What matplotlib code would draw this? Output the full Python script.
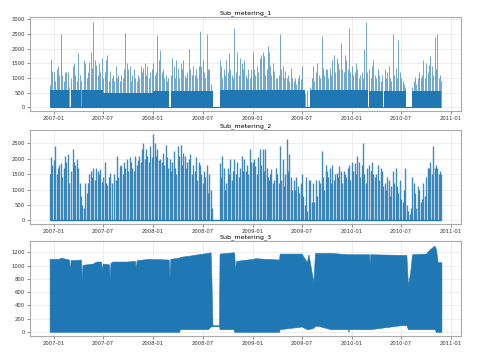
import matplotlib
matplotlib.use('Agg')

import matplotlib.pyplot as plt
import matplotlib.dates as mdates
import pandas as pd

# --- data (hourly sums, peaks every 5 days: days 1,6,11,16,21,26) ---
first_day = '2006-12-16'
last_day = '2010-11-26'
months = pd.date_range('2006-12-01', '2010-11-01', freq='MS')
days = [1, 6, 11, 16, 21, 26]

sm1_peaks = [
    750, 1650, 1250,                     # 2006-12 (from 16th)
    1200, 900, 1300, 1400, 1100, 2500,   # 2007-01
    1100, 900, 1200, 1200, 1200, 700,
    0, 1000, 1400, 1500, 1100, 900,
    1850, 1100, 900, 0, 1600, 1500,
    1000, 1200, 1550, 1900, 1350, 2920,
    1600, 1450, 1100, 1500, 1200, 1700,
    1000, 1200, 1600, 1800, 900, 1250,
    1000, 1100, 900, 1400, 1000, 1100,
    900, 1100, 1000, 1300, 2550, 1500,
    1300, 1400, 900, 1100, 1300, 1000,
    900, 1100, 1000, 1400, 1200, 1350,
    1500, 1100, 1400, 1000, 1200, 1300,
    1500, 1100, 1200, 2480, 1600, 1950,  # 2008-01
    1200, 1300, 1000, 1100, 900, 1000,
    0, 1100, 1700, 1400, 1000, 1600,
    1350, 1000, 1500, 1300, 1600, 1100,
    1000, 1200, 2000, 1300, 1100, 1400,
    1100, 1300, 1000, 1400, 2600, 1400,
    1600, 1200, 1000, 2500, 1300, 1300,
    800, 600, 0, 0, 0, 0,
    1600, 1400, 1000, 1300, 1100, 1600,
    1200, 1850, 1300, 1100, 1000, 2700,
    1200, 1900, 1100, 1700, 1500, 1300,
    1600, 1100, 1000, 1300, 1000, 1300,
    1900, 1300, 1100, 1400, 1200, 1700,  # 2009-01
    1800, 1900, 1750, 1100, 1300, 2100,
    1900, 1400, 1100, 1500, 1250, 1000,
    1000, 1100, 2500, 1300, 1400, 1000,
    1250, 1000, 1100, 900, 1350, 1000,
    900, 1000, 800, 1000, 1100, 950,
    1400, 600, 500, 0, 600, 0,
    700, 1000, 1400, 900, 1200, 1500,
    1100, 1000, 2450, 1350, 1100, 1300,
    1300, 1000, 1350, 1100, 1600, 1800,
    1200, 1700, 1500, 1300, 2200, 1300,
    1200, 1800, 1600, 1300, 2700, 1200,
    1400, 1100, 1200, 1500, 1300, 1000,  # 2010-01
    1100, 1200, 1000, 2000, 2900, 1200,
    0, 1300, 1000, 1400, 1600, 1100,
    1000, 1300, 1100, 900, 1100, 0,
    1300, 1000, 1200, 1400, 1000, 900,
    2500, 1100, 1350, 1000, 2300, 1200,
    1000, 900, 800, 700, 0, 0,
    0, 0, 700, 900, 1050, 800,
    1000, 1200, 1000, 1100, 1600, 1000,
    1500, 1200, 1450, 1750, 1400, 1100,
    2400, 1300, 2500, 1000, 1100, 900,
]

# dense lower band of Sub_metering_1: (start, end, level)
sm1_body_start = ['2006-12-16', '2007-03-03', '2007-04-15', '2007-07-01', '2008-01-01',
                  '2008-03-05', '2008-09-01', '2009-08-01', '2010-03-03', '2010-04-27',
                  '2010-08-11']
sm1_body_end = ['2007-02-27', '2007-04-12', '2007-06-30', '2007-12-31', '2008-02-27',
                '2008-08-08', '2009-07-12', '2010-02-28', '2010-04-25', '2010-07-17',
                '2010-11-26']
sm1_body_level = [600, 580, 580, 480, 540, 570, 580, 580, 560, 560, 560]

sm2_peaks = [
    1500, 2050, 1800,                    # 2006-12 (from 16th)
    1950, 2400, 1500, 1700, 1800, 1850,  # 2007-01
    1400, 1700, 2100, 1900, 2150, 1200,
    0, 1600, 2300, 1900, 1800, 2000,
    1700, 1200, 800, 500, 400, 1200,
    900, 1200, 1500, 1600, 1400, 1700,
    1300, 1700, 1600, 1500, 1650, 1250,
    1400, 1900, 1200, 1150, 1400, 1550,
    1200, 0, 1500, 1300, 2100, 1400,
    1750, 1800, 1500, 1900, 1700, 2000,
    1600, 2050, 1900, 1700, 1600, 2100,
    1800, 1950, 2100, 1900, 2300, 2500,
    2000, 2300, 2100, 1900, 2400, 2050,
    2800, 2500, 2100, 2300, 1950, 2000,  # 2008-01
    1900, 2200, 1800, 2450, 2050, 1700,
    2000, 1600, 1900, 2250, 1700, 1500,
    2400, 2100, 2450, 1800, 2200, 2100,
    1700, 1900, 2000, 2150, 1500, 1800,
    1600, 2050, 1300, 1900, 1800, 1500,
    1200, 1600, 1400, 1800, 900, 1500,
    1000, 400, 0, 0, 0, 0,
    1850, 1400, 2100, 1700, 1000, 1200,
    1700, 1500, 2000, 1300, 1600, 2000,
    1500, 1900, 1400, 1700, 2100, 1600,
    2000, 1600, 1800, 1500, 2300, 1900,
    1900, 2000, 1750, 1500, 2050, 2300,  # 2009-01
    1800, 2300, 1600, 2300, 1700, 1400,
    1300, 1500, 1650, 1200, 1300, 1700,
    1500, 1200, 2400, 1300, 2000, 1100,
    1500, 2650, 1600, 2150, 1400, 1000,
    1300, 1000, 1400, 1100, 900, 1200,
    1500, 800, 500, 1400, 300, 1300,
    1300, 600, 1200, 600, 1300, 800,
    1300, 1200, 2250, 1400, 1000, 1800,
    1600, 1400, 1700, 1200, 1800, 1300,
    1500, 1550, 1400, 1750, 1600, 1200,
    1600, 1500, 1400, 1700, 1800, 1300,
    1900, 1600, 1850, 1500, 2100, 1900,  # 2010-01
    1400, 1800, 2500, 1500, 1200, 1700,
    0, 1800, 1600, 1900, 1500, 1400,
    1500, 1800, 1300, 1700, 1600, 1100,
    1200, 1000, 1400, 1300, 800, 1100,
    1600, 1200, 1700, 1100, 900, 1300,
    700, 600, 1000, 1700, 500, 300,
    200, 400, 1400, 1200, 900, 400,
    1100, 1000, 600, 700, 1200, 800,
    1400, 1700, 1700, 1900, 1500, 2400,
    1700, 1800, 1700, 1500, 1600, 1500,
]
sm2_base = 40

# Sub_metering_3 envelope: date, upper edge, lower edge
sm3_dates = ['2006-12-16', '2007-01-20', '2007-01-25', '2007-02-25', '2007-03-01',
             '2007-03-03', '2007-04-10', '2007-04-13', '2007-04-16', '2007-05-25',
             '2007-06-05', '2007-06-23', '2007-06-26', '2007-06-29', '2007-07-22',
             '2007-07-25', '2007-07-28', '2007-08-05', '2007-09-25', '2007-10-26',
             '2007-10-29', '2007-11-01', '2007-12-15', '2008-02-27', '2008-03-01',
             '2008-03-04', '2008-04-06', '2008-04-08', '2008-05-15', '2008-06-15',
             '2008-07-20', '2008-07-30', '2008-08-02', '2008-08-06', '2008-08-08',
             '2008-08-30', '2008-09-01', '2008-10-22', '2008-10-25', '2008-10-28',
             '2008-11-01', '2008-12-31', '2009-01-10', '2009-04-08', '2009-04-10',
             '2009-06-30', '2009-07-19', '2009-07-25', '2009-08-12', '2009-08-18',
             '2009-08-30', '2009-10-15', '2009-12-17', '2009-12-19', '2009-12-21',
             '2010-03-05', '2010-03-07', '2010-03-09', '2010-06-30', '2010-07-20',
             '2010-07-26', '2010-08-03', '2010-08-10', '2010-09-30', '2010-10-13',
             '2010-10-31', '2010-11-06', '2010-11-12', '2010-11-26']
sm3_top = [1100, 1100, 1120, 1090, 910,
           1080, 1090, 800, 1010, 1030,
           1060, 1060, 900, 1030, 1020,
           830, 1040, 1060, 1060, 1070,
           950, 1080, 1100, 1090, 820,
           1100, 1120, 1130, 1150, 1170,
           1190, 1200, 820, 110, 100,
           100, 1180, 1200, 1190, 920,
           1070, 1100, 1110, 1090, 1180,
           1180, 1050, 1170, 750, 1190,
           1190, 1190, 1170, 1170, 1170,
           1170, 1000, 1170, 1160, 1160,
           700, 900, 1170, 1180, 1240,
           1300, 1250, 1050, 1050]
sm3_low = [0, 0, 0, 0, 0,
           0, 0, 0, 0, 0,
           0, 0, 0, 0, 0,
           0, 0, 0, 0, 0,
           0, 0, 0, 0, 0,
           0, 0, 40, 40, 40,
           40, 80, 80, 85, 85,
           85, 40, 40, 0, 0,
           0, 0, 0, 0, 40,
           80, 40, 40, 60, 90,
           90, 40, 40, 0, 40,
           40, 40, 40, 100, 100,
           40, 40, 40, 40, 40,
           40, 0, 0, 0]

assert len(sm1_peaks) == len(sm2_peaks) == 285
assert len(sm3_dates) == len(sm3_top) == len(sm3_low)

spike_dates = [m + pd.Timedelta(days=d - 1) for m in months for d in days]
spike_dates = [d for d in spike_dates if d >= pd.Timestamp(first_day)]

blue = '#1f77b4'
plt.rcParams['font.size'] = 3.8

fig = plt.figure(figsize=(4.92, 3.57), dpi=100)
ax1 = fig.add_axes([0.061, 0.688, 0.876, 0.264])
ax2 = fig.add_axes([0.061, 0.372, 0.876, 0.265])
ax3 = fig.add_axes([0.061, 0.059, 0.876, 0.266])

span = pd.to_datetime([first_day, last_day])

# Sub_metering_1
ax1.hlines(0, span[0], span[1], color=blue, lw=0.8)
for s, e, lvl in zip(sm1_body_start, sm1_body_end, sm1_body_level):
    ax1.fill_between(pd.to_datetime([s, e]), [0, 0], [lvl, lvl], color=blue, lw=0)
ax1.vlines(spike_dates, 0, sm1_peaks, color=blue, lw=0.6, alpha=0.75)
ax1.set_title('Sub_metering_1', pad=2)

# Sub_metering_2
ax2.hlines(sm2_base / 2, span[0], span[1], color=blue, lw=1.0)
ax2.vlines(spike_dates, 0, sm2_peaks, color=blue, lw=1.0, alpha=0.85)
ax2.set_title('Sub_metering_2', pad=2)

# Sub_metering_3
ax3.fill_between(pd.to_datetime(sm3_dates), sm3_low, sm3_top, color=blue, lw=0.4,
                 edgecolor=blue)
ax3.set_title('Sub_metering_3', pad=2)

for ax in (ax1, ax2, ax3):
    ax.set_xlim(span[0] - pd.Timedelta(days=72), span[1] + pd.Timedelta(days=72))
    ax.xaxis.set_major_locator(mdates.MonthLocator(bymonth=[1, 7]))
    ax.xaxis.set_major_formatter(mdates.DateFormatter('%Y-%m'))
    ax.grid(color='#e8e8e8', lw=0.5)
    ax.set_axisbelow(True)
    ax.tick_params(length=2, width=0.4, pad=1.5, colors='#333333')
    for sp in ax.spines.values():
        sp.set_color('#aaaaaa')
        sp.set_linewidth(0.8)

ax1.set_ylim(-140, 3080)
ax1.set_yticks(range(0, 3001, 500))
ax2.set_ylim(-125, 2945)
ax2.set_yticks(range(0, 2501, 500))
ax3.set_ylim(-62, 1370)
ax3.set_yticks(range(0, 1201, 200))

fig.savefig('out.png', dpi=100)
